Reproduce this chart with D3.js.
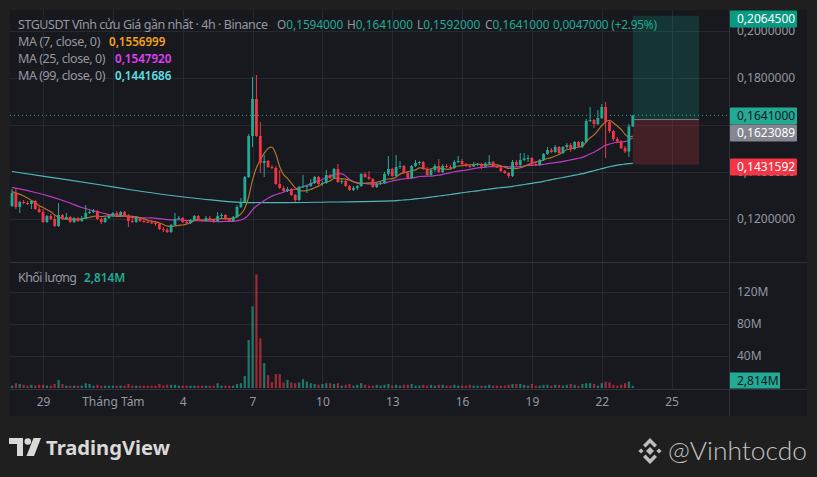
<!DOCTYPE html>
<html>
<head>
<meta charset="utf-8">
<script src="https://cdn.jsdelivr.net/npm/d3@7"></script>
<style>
html, body { margin: 0; padding: 0; background: #1f1f1f; }
svg { display: block; font-family: "Noto Sans", sans-serif; }
</style>
</head>
<body>
<svg id="chart" width="817" height="477"></svg>
<script>
"use strict";
// 4h candles, first one opens Jul 27 16:00
const startTime = new Date(2024, 6, 27, 16);
const firstOpen = 0.12553;
const closes = [
    0.13106, 0.12511, 0.12723, 0.12681, 0.12638, 0.12766, 0.12426, 0.12298, 0.11872, 0.12128,
    0.12000, 0.11702, 0.12170, 0.12000, 0.12085, 0.11872, 0.12043, 0.11915, 0.12043, 0.12255,
    0.12298, 0.12340, 0.12000, 0.11872, 0.12043, 0.12128, 0.12255, 0.12170, 0.12298, 0.12128,
    0.11915, 0.11872, 0.12043, 0.11915, 0.11872, 0.11851, 0.11830, 0.11787, 0.11574, 0.11532,
    0.11447, 0.11745, 0.12000, 0.12043, 0.11872, 0.11830, 0.11957, 0.12128, 0.11957, 0.11915,
    0.12043, 0.11957, 0.11915, 0.12128, 0.12170, 0.12000, 0.11915, 0.12085, 0.12511, 0.12723,
    0.13787, 0.15532, 0.17106, 0.15532, 0.14383, 0.14468, 0.14213, 0.14170, 0.13489, 0.13319,
    0.13191, 0.13277, 0.13021, 0.12809, 0.13362, 0.13404, 0.13404, 0.13532, 0.13787, 0.13489,
    0.13532, 0.13872, 0.13745, 0.14128, 0.13574, 0.13617, 0.13404, 0.13234, 0.13319, 0.13404,
    0.13915, 0.13787, 0.13702, 0.13362, 0.13489, 0.13532, 0.13915, 0.14128, 0.13830, 0.14213,
    0.14255, 0.13957, 0.13745, 0.14255, 0.14383, 0.14426, 0.14128, 0.13872, 0.14085, 0.14255,
    0.14000, 0.14255, 0.14213, 0.14170, 0.14426, 0.14468, 0.14340, 0.14255, 0.14234, 0.14319,
    0.14340, 0.14234, 0.14362, 0.14426, 0.14255, 0.14191, 0.14043, 0.13957, 0.13830, 0.14426,
    0.14298, 0.14511, 0.14574, 0.14596, 0.14340, 0.14298, 0.14511, 0.14766, 0.14936, 0.14851,
    0.15064, 0.14809, 0.15064, 0.15149, 0.14979, 0.15277, 0.15085, 0.15277, 0.16170, 0.16213,
    0.16043, 0.16298, 0.16766, 0.16128, 0.15745, 0.15404, 0.15298, 0.15021, 0.14872, 0.15940,
    0.16410
];
const highs = [
    0.13277, 0.13319, 0.12766, 0.12809, 0.12766, 0.12809, 0.12809, 0.12553, 0.12426, 0.12170,
    0.12213, 0.12128, 0.12681, 0.12213, 0.12255, 0.12128, 0.12085, 0.12085, 0.12128, 0.12596,
    0.12383, 0.12426, 0.12383, 0.12043, 0.12085, 0.12170, 0.12298, 0.12340, 0.12340, 0.12340,
    0.12213, 0.12043, 0.12085, 0.12085, 0.12000, 0.11957, 0.11957, 0.11915, 0.11872, 0.11660,
    0.11617, 0.11787, 0.12255, 0.12128, 0.12085, 0.11957, 0.12000, 0.12170, 0.12170, 0.12000,
    0.12128, 0.12128, 0.12000, 0.12298, 0.12255, 0.12213, 0.12043, 0.12128, 0.12596, 0.12894,
    0.13830, 0.15617, 0.18043, 0.18128, 0.16128, 0.14723, 0.14511, 0.14298, 0.14255, 0.14085,
    0.13404, 0.13362, 0.13319, 0.13064, 0.13404, 0.13872, 0.13447, 0.13702, 0.13830, 0.13830,
    0.13617, 0.14085, 0.13915, 0.14170, 0.14340, 0.13702, 0.13660, 0.13447, 0.13404, 0.13447,
    0.13957, 0.14000, 0.14043, 0.13745, 0.13532, 0.13617, 0.14000, 0.14681, 0.14170, 0.14723,
    0.14468, 0.14298, 0.14043, 0.14298, 0.14511, 0.14468, 0.14468, 0.14213, 0.14170, 0.14340,
    0.14553, 0.14340, 0.14340, 0.14298, 0.14511, 0.14681, 0.14553, 0.14383, 0.14298, 0.14426,
    0.14383, 0.14383, 0.14426, 0.14723, 0.14468, 0.14298, 0.14255, 0.14085, 0.14000, 0.14511,
    0.14511, 0.14809, 0.14809, 0.14723, 0.14638, 0.14426, 0.14553, 0.14809, 0.15064, 0.15021,
    0.15149, 0.15106, 0.15106, 0.15234, 0.15234, 0.15319, 0.15319, 0.15319, 0.16255, 0.16766,
    0.16255, 0.16638, 0.16894, 0.16979, 0.16170, 0.15787, 0.15489, 0.15362, 0.15106, 0.16043,
    0.16410
];
const lows = [
    0.12511, 0.12426, 0.12255, 0.12638, 0.12596, 0.12426, 0.12383, 0.12255, 0.11830, 0.11830,
    0.11957, 0.11660, 0.11660, 0.11957, 0.11957, 0.11830, 0.11830, 0.11872, 0.11872, 0.12000,
    0.12213, 0.12255, 0.11957, 0.11787, 0.11830, 0.12000, 0.12085, 0.12128, 0.12128, 0.12085,
    0.11660, 0.11830, 0.11830, 0.11872, 0.11830, 0.11830, 0.11787, 0.11702, 0.11532, 0.11447,
    0.11404, 0.11404, 0.11702, 0.11957, 0.11830, 0.11787, 0.11787, 0.11915, 0.11915, 0.11872,
    0.11872, 0.11915, 0.11830, 0.11872, 0.12043, 0.11957, 0.11872, 0.11872, 0.12043, 0.12468,
    0.12681, 0.13745, 0.15064, 0.15489, 0.13957, 0.13787, 0.14170, 0.14128, 0.13447, 0.13277,
    0.13149, 0.13149, 0.12979, 0.12723, 0.12766, 0.13319, 0.13106, 0.13362, 0.13489, 0.13447,
    0.13404, 0.13489, 0.13702, 0.13702, 0.13532, 0.13489, 0.13362, 0.13191, 0.13191, 0.13234,
    0.13362, 0.13745, 0.13660, 0.13319, 0.13319, 0.13447, 0.13489, 0.13830, 0.13787, 0.13787,
    0.14128, 0.13915, 0.13702, 0.13702, 0.14213, 0.14298, 0.14085, 0.13830, 0.13830, 0.14000,
    0.13957, 0.13957, 0.14170, 0.14128, 0.14128, 0.14383, 0.14255, 0.14213, 0.14170, 0.14213,
    0.14255, 0.14128, 0.14213, 0.14298, 0.14213, 0.14170, 0.14000, 0.13915, 0.13745, 0.13787,
    0.14255, 0.14255, 0.14468, 0.14426, 0.14298, 0.14255, 0.14255, 0.14468, 0.14723, 0.14809,
    0.14809, 0.14766, 0.14766, 0.14979, 0.14851, 0.14936, 0.15064, 0.15021, 0.15234, 0.16128,
    0.15872, 0.16000, 0.16255, 0.14596, 0.15660, 0.15319, 0.15234, 0.14979, 0.14809, 0.14638,
    0.15920
];
// volume in millions
const volumes = [
    3, 6, 5, 4, 3, 4, 3, 4, 4, 3,
    3, 5, 10, 5, 3, 3, 3, 3, 3, 6,
    5, 3, 4, 3, 3, 3, 3, 3, 3, 3,
    5, 3, 3, 3, 3, 3, 3, 3, 5, 3,
    4, 4, 4, 3, 3, 3, 3, 3, 3, 3,
    3, 3, 3, 6, 3, 3, 3, 3, 5, 6,
    15, 60, 102, 142, 62, 31, 16, 7.5, 17.5, 17.5,
    7, 10, 7, 6, 7, 11, 8, 6, 5, 4,
    5, 6, 6, 5, 6, 3, 4, 5, 3, 4,
    6, 4, 3, 3, 4, 3, 4, 5, 3, 4,
    3, 4, 4, 5, 3, 3, 4, 3, 4, 3,
    4, 4, 3, 3, 4, 3, 3, 3, 4, 3,
    3, 3, 3, 4, 3, 3, 3, 3, 4, 5,
    5, 5, 4, 3, 5, 3, 3, 4, 4, 3,
    4, 4, 3, 4, 5, 4, 3, 5, 6, 6,
    5, 3, 6, 8, 7, 4, 3, 4, 6, 8,
    2.814
];
const ma7ReadIdx = [0, 3];
const ma7ReadVal = [0.13162, 0.12979];
const ma25ReadIdx = [0, 5, 10, 14, 18];
const ma25ReadVal = [0.13349, 0.13170, 0.12949, 0.12736, 0.12489];
const ma99ReadIdx = [0, 10, 23, 31, 40, 49, 59, 69, 82];
const ma99ReadVal = [0.14021, 0.13774, 0.13447, 0.13234, 0.13021, 0.12851, 0.12711, 0.12694, 0.12723];
// legend readouts as printed on the chart
const maNames = ["MA (7, close, 0)", "MA (25, close, 0)", "MA (99, close, 0)"];
const maLegendValues = [0.1556999, 0.1547920, 0.1441686];
const priceTicks = [0.12, 0.14, 0.16, 0.18, 0.20];
const hiddenPriceLabels = [0.16]; // sits fully under the scale labels
const volumeTicks = [40, 80, 120];
const dayTicks = [new Date(2024, 6, 29), new Date(2024, 7, 1), new Date(2024, 7, 4), new Date(2024, 7, 7),
    new Date(2024, 7, 10), new Date(2024, 7, 13), new Date(2024, 7, 16), new Date(2024, 7, 19),
    new Date(2024, 7, 22), new Date(2024, 7, 25)];
// long position tool
const takeProfit = 0.20645;
const entryPrice = 0.1623089;
const stopLoss = 0.1431592;

const UP = "#22ab94", DOWN = "#f23645";
const GRID = "#262931", BORDER = "#2f323a", TEXT = "#9598a1";
const fmtPrice = (p) => p.toFixed(7).replace(".", ",");

const hour = 3600 * 1000;
const candles = closes.map((c, i) => ({
    t: new Date(startTime.getTime() + i * 4 * hour),
    o: i == 0 ? firstOpen : closes[i - 1],
    h: highs[i],
    l: lows[i],
    c: c,
    v: volumes[i]
}));
const last = candles[candles.length - 1];

const plot = { left: 10, right: 729, top: 10, mainBottom: 262, volBottom: 389, bottom: 416, outerRight: 807 };

const x = d3.scaleTime()
    .domain([startTime, last.t])
    .range([12, 632.8]);
const y = d3.scaleLinear().domain([0.12, 0.20]).range([219, 31]);
const yVol = d3.scaleLinear().domain([0, 120]).range([388, 292]);

const svg = d3.select("#chart");
svg.append("rect").attr("width", 817).attr("height", 477).attr("fill", "#1f1f1f");
svg.append("rect")
    .attr("x", plot.left).attr("y", plot.top)
    .attr("width", plot.outerRight - plot.left).attr("height", plot.bottom - plot.top)
    .attr("fill", "#18191e");

// grid
const grid = svg.append("g").attr("stroke", GRID).attr("stroke-width", 1).attr("shape-rendering", "crispEdges");
grid.selectAll("line.v").data(dayTicks).join("line")
    .attr("x1", (d) => Math.round(x(d)) + 0.5).attr("x2", (d) => Math.round(x(d)) + 0.5)
    .attr("y1", plot.top).attr("y2", plot.volBottom);
grid.selectAll("line.p").data(priceTicks).join("line")
    .attr("x1", plot.left).attr("x2", plot.right)
    .attr("y1", (d) => Math.round(y(d)) + 0.5).attr("y2", (d) => Math.round(y(d)) + 0.5);
grid.selectAll("line.vol").data(volumeTicks).join("line")
    .attr("x1", plot.left).attr("x2", plot.right)
    .attr("y1", (d) => Math.round(yVol(d)) + 0.5).attr("y2", (d) => Math.round(yVol(d)) + 0.5);

// pane borders
const borders = svg.append("g").attr("stroke", BORDER).attr("shape-rendering", "crispEdges");
borders.append("line").attr("x1", plot.left).attr("x2", plot.outerRight).attr("y1", plot.mainBottom + 0.5).attr("y2", plot.mainBottom + 0.5);
borders.append("line").attr("x1", plot.left).attr("x2", plot.outerRight).attr("y1", plot.volBottom + 0.5).attr("y2", plot.volBottom + 0.5);
borders.append("line").attr("x1", plot.right + 0.5).attr("x2", plot.right + 0.5).attr("y1", plot.top).attr("y2", plot.bottom);

// position tool
const pos = svg.append("g");
const posX0 = x(last.t), posX1 = 699;
pos.append("rect").attr("x", posX0).attr("width", posX1 - posX0)
    .attr("y", y(takeProfit)).attr("height", y(entryPrice) - y(takeProfit))
    .attr("fill", "rgba(8,153,129,0.22)");
pos.append("rect").attr("x", posX0).attr("width", posX1 - posX0)
    .attr("y", y(entryPrice)).attr("height", y(stopLoss) - y(entryPrice))
    .attr("fill", "rgba(242,54,69,0.2)");
pos.append("line").attr("x1", posX0).attr("x2", posX1)
    .attr("y1", y(entryPrice)).attr("y2", y(entryPrice))
    .attr("stroke", "#787b86").attr("stroke-width", 1);

// volume bars
svg.append("g").selectAll("rect").data(candles).join("rect")
    .attr("x", (d) => x(d.t) - 1.1).attr("width", 2.2)
    .attr("y", (d) => yVol(d.v)).attr("height", (d) => yVol(0) - yVol(d.v))
    .attr("fill", (d) => d.c >= d.o ? "rgba(34,171,148,0.65)" : "rgba(242,54,69,0.62)");

// moving averages
function movingAverage(n, readIdx, readVal) {
    const pts = readIdx.map((idx, k) => [idx, readVal[k]]);
    for (let i = n - 1; i < closes.length; i++) {
        pts.push([i, d3.mean(closes.slice(i - n + 1, i + 1))]);
    }
    return pts;
}
const maLine = d3.line()
    .x((p) => x(candles[p[0]].t))
    .y((p) => y(p[1]))
    .curve(d3.curveMonotoneX);
const maDefs = [
    { pts: movingAverage(99, ma99ReadIdx, ma99ReadVal), color: "#4fb6b8" },
    { pts: movingAverage(25, ma25ReadIdx, ma25ReadVal), color: "#b93bc4" },
    { pts: movingAverage(7, ma7ReadIdx, ma7ReadVal), color: "#b0742a" }
];
svg.append("g").selectAll("path").data(maDefs).join("path")
    .attr("d", (m) => maLine(m.pts))
    .attr("fill", "none")
    .attr("stroke", (m) => m.color)
    .attr("stroke-width", 1.2);

// candles
const cg = svg.append("g").selectAll("g").data(candles).join("g")
    .attr("fill", (d) => d.c >= d.o ? UP : DOWN)
    .attr("stroke", (d) => d.c >= d.o ? UP : DOWN);
cg.append("line")
    .attr("x1", (d) => x(d.t)).attr("x2", (d) => x(d.t))
    .attr("y1", (d) => y(d.h)).attr("y2", (d) => y(d.l))
    .attr("stroke-width", 1);
cg.append("rect")
    .attr("x", (d) => x(d.t) - 1.4).attr("width", 2.8)
    .attr("y", (d) => y(Math.max(d.o, d.c)))
    .attr("height", (d) => Math.max(1, Math.abs(y(d.o) - y(d.c))))
    .attr("stroke", "none");

// current price dotted line
svg.append("line")
    .attr("x1", plot.left).attr("x2", plot.right)
    .attr("y1", y(last.c)).attr("y2", y(last.c))
    .attr("stroke", UP).attr("stroke-width", 1).attr("stroke-dasharray", "1,3");

// price axis
const priceAxis = svg.append("g")
    .attr("transform", `translate(${plot.right},0)`)
    .call(d3.axisRight(y).tickValues(priceTicks.filter((p) => !hiddenPriceLabels.includes(p)))
        .tickFormat(fmtPrice).tickSize(0).tickPadding(8));
priceAxis.select(".domain").remove();
priceAxis.selectAll("text").attr("fill", TEXT).attr("font-size", 12).attr("font-family", "Noto Sans");

const volAxis = svg.append("g")
    .attr("transform", `translate(${plot.right},0)`)
    .call(d3.axisRight(yVol).tickValues(volumeTicks).tickFormat((d) => `${d}M`).tickSize(0).tickPadding(8));
volAxis.select(".domain").remove();
volAxis.selectAll("text").attr("fill", TEXT).attr("font-size", 12).attr("font-family", "Noto Sans");

// time axis
const timeAxis = svg.append("g")
    .attr("transform", `translate(0,${plot.volBottom})`)
    .call(d3.axisBottom(x).tickValues(dayTicks)
        .tickFormat((d) => d.getDate() == 1 ? "Tháng Tám" : String(d.getDate()))
        .tickSize(0).tickPadding(8));
timeAxis.select(".domain").remove();
timeAxis.selectAll("text").attr("fill", TEXT).attr("font-size", 12).attr("font-family", "Noto Sans");

// price labels on the scale
const labels = [
    { cy: 19, bg: "#089981", fg: "#ffffff", text: fmtPrice(takeProfit) },
    { cy: 116, bg: UP, fg: "#131722", text: fmtPrice(last.c) },
    { cy: 133, bg: "#838690", fg: "#ffffff", text: fmtPrice(entryPrice) },
    { cy: 167, bg: DOWN, fg: "#ffffff", text: fmtPrice(stopLoss) }
];
const lg = svg.append("g").selectAll("g").data(labels).join("g");
lg.append("rect").attr("x", plot.right + 1).attr("y", (d) => d.cy - 8.5)
    .attr("width", 67).attr("height", 17).attr("rx", 1).attr("fill", (d) => d.bg);
lg.append("text").attr("x", plot.right + 8).attr("y", (d) => d.cy).attr("dy", "0.35em")
    .attr("font-size", 12).attr("fill", (d) => d.fg).text((d) => d.text);

const volLabel = svg.append("g");
volLabel.append("rect").attr("x", plot.right + 1).attr("y", yVol(0) - 15.5)
    .attr("width", 50).attr("height", 16).attr("fill", UP);
volLabel.append("text").attr("x", plot.right + 8).attr("y", yVol(0) - 7.5).attr("dy", "0.35em")
    .attr("font-size", 12).attr("fill", "#131722").text(`${String(last.v).replace(".", ",")}M`);

// header line
const change = last.c - last.o;
svg.append("text").attr("x", 18).attr("y", 29).attr("font-size", 12.5).attr("fill", TEXT)
    .attr("textLength", 250).attr("lengthAdjust", "spacing")
    .text("STGUSDT Vĩnh cửu Giá gần nhất · 4h · Binance");
const ohlc = [["O", last.o, 277], ["H", last.h, 347], ["L", last.l, 417], ["C", last.c, 485]];
ohlc.forEach(([k, v, px]) => {
    const t = svg.append("text").attr("x", px).attr("y", 29).attr("font-size", 11.8).attr("fill", TEXT);
    t.append("tspan").text(k);
    t.append("tspan").attr("fill", UP).text(fmtPrice(v));
});
svg.append("text").attr("x", 553).attr("y", 29).attr("font-size", 11.8).attr("fill", UP)
    .attr("textLength", 104).attr("lengthAdjust", "spacing")
    .text(`${fmtPrice(change)} (+${(change / last.o * 100).toFixed(2)}%)`);

// MA legend
const maColors = ["#f7a21b", "#e040fb", "#5ce1e6"];
const valueX = [109, 115, 115];
maNames.forEach((name, k) => {
    const ly = 46 + k * 17;
    svg.append("text").attr("x", 18).attr("y", ly).attr("font-size", 12.5).attr("fill", TEXT)
        .attr("textLength", name.length * 5.15).attr("lengthAdjust", "spacing").text(name);
    svg.append("text").attr("x", valueX[k]).attr("y", ly).attr("font-size", 11.6).attr("font-weight", 600)
        .attr("fill", maColors[k]).text(fmtPrice(maLegendValues[k]));
});

svg.append("text").attr("x", 18).attr("y", 282).attr("font-size", 12.5).attr("fill", TEXT)
    .attr("textLength", 59).attr("lengthAdjust", "spacing").text("Khối lượng");
svg.append("text").attr("x", 84).attr("y", 282).attr("font-size", 11.8).attr("font-weight", 600)
    .attr("fill", UP).text(`${String(last.v).replace(".", ",")}M`);

// footer logos
const foot = svg.append("g").attr("fill", "#d9d9d9");
foot.append("path").attr("d", "M9,438 H23 V456 H17 V444 H9 Z");
foot.append("circle").attr("cx", 27.8).attr("cy", 441.5).attr("r", 3.3);
foot.append("path").attr("d", "M33.5,438 H41 L34,456 H26.5 Z");
foot.append("text").attr("x", 46).attr("y", 454.5).attr("font-size", 20).attr("font-weight", 700)
    .attr("textLength", 124).attr("lengthAdjust", "spacingAndGlyphs").text("TradingView");

const bn = svg.append("g").attr("fill", "#bdbdbd").attr("transform", "translate(650,451)");
[[0, 0, 4], [-9, 0, 2.6], [9, 0, 2.6]].forEach(([dx, dy, r]) => {
    bn.append("path").attr("d", `M${dx},${dy - r} L${dx + r},${dy} L${dx},${dy + r} L${dx - r},${dy} Z`);
});
bn.append("path").attr("d", "M0,-13 L7,-6 L4.5,-3.5 L0,-8 L-4.5,-3.5 L-7,-6 Z");
bn.append("path").attr("d", "M0,13 L7,6 L4.5,3.5 L0,8 L-4.5,3.5 L-7,6 Z");
svg.append("text").attr("x", 668).attr("y", 460).attr("font-size", 26).attr("font-family", "Lato")
    .attr("font-weight", 300).attr("fill", "#c4c4c4")
    .attr("textLength", 139).attr("lengthAdjust", "spacingAndGlyphs").text("@Vinhtocdo");
</script>
</body>
</html>
